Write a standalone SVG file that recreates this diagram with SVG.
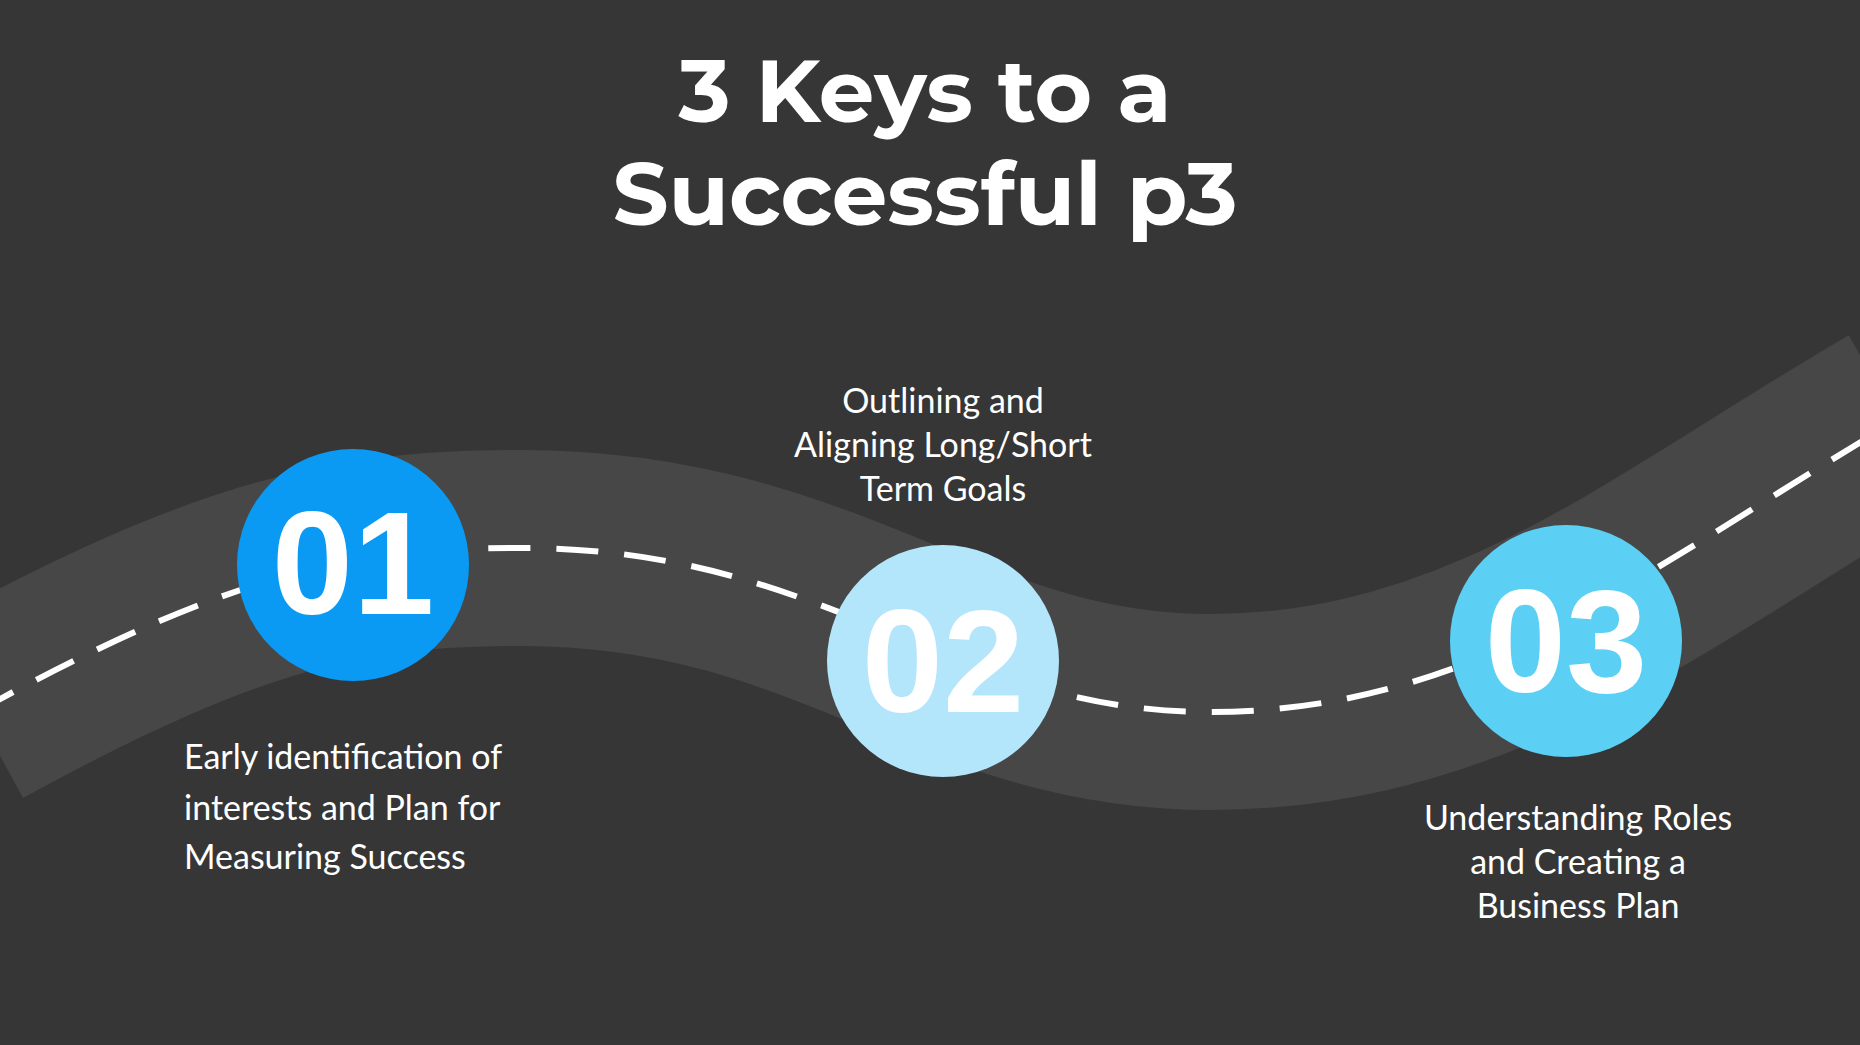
<svg xmlns="http://www.w3.org/2000/svg" width="1860" height="1045" viewBox="0 0 1860 1045">
<style>
.t{font-family:"Montserrat","Open Sans","Liberation Sans",sans-serif;font-weight:700;fill:#fff;font-size:88px;text-anchor:middle}
.n{font-family:"Liberation Sans",Arial,sans-serif;font-weight:700;fill:#fff;font-size:146px;text-anchor:middle}
.l{font-family:Lato,"Liberation Sans",sans-serif;fill:#fff;font-size:34px}
</style>
<rect width="1860" height="1045" fill="#363636"/>
<g id="connectors">
<path d="M -24 712 C 237 569, 356 548, 522 548 C 830 548, 949 712, 1210 712 C 1483 712, 1661 558, 1898 420" fill="none" stroke="#474747" stroke-width="196"/>
<path d="M -24 712 C 237 569, 356 548, 522 548 C 830 548, 949 712, 1210 712 C 1483 712, 1661 558, 1898 420" fill="none" stroke="#fff" stroke-width="6" stroke-dasharray="42 26"/>
</g>
<g id="title">
<text class="t" x="925" y="122">3 Keys to a</text>
<text class="t" x="925" y="225">Successful p3</text>
</g>
<g id="node1">
<circle cx="353" cy="565" r="116" fill="#0a9af4"/>
<text class="n" x="353" y="614">01</text>
<text class="l" x="184" y="769">Early identification of</text>
<text class="l" x="184" y="820">interests and Plan for</text>
<text class="l" x="184" y="869">Measuring Success</text>
</g>
<g id="node2">
<circle cx="943" cy="661" r="116" fill="#b3e5fb"/>
<text class="n" x="943" y="712">02</text>
<text class="l" x="943" y="413" text-anchor="middle">Outlining and</text>
<text class="l" x="943" y="457" text-anchor="middle">Aligning Long/Short</text>
<text class="l" x="943" y="501" text-anchor="middle">Term Goals</text>
</g>
<g id="node3">
<circle cx="1566" cy="641" r="116" fill="#5bd0f4"/>
<text class="n" x="1566" y="692">03</text>
<text class="l" x="1578" y="830" text-anchor="middle">Understanding Roles</text>
<text class="l" x="1578" y="874" text-anchor="middle">and Creating a</text>
<text class="l" x="1578" y="918" text-anchor="middle">Business Plan</text>
</g>
</svg>
